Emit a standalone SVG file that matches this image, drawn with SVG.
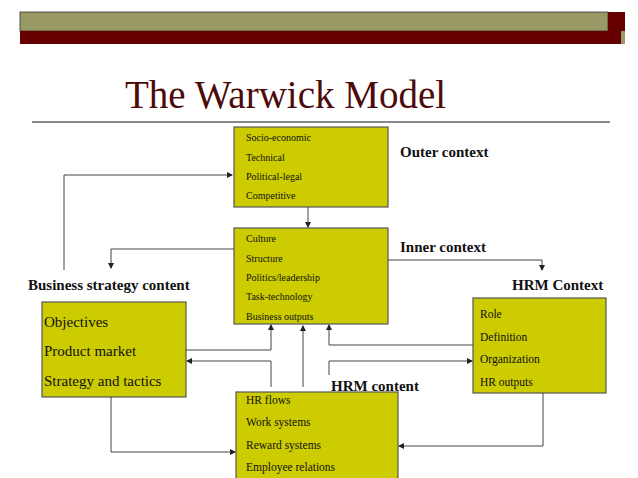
<svg xmlns="http://www.w3.org/2000/svg" width="638" height="478" viewBox="0 0 638 478">
<style>
.box{fill:#cccc00;stroke:#555;stroke-width:1.2}
.s{font-family:"Liberation Serif",serif;font-size:10px;fill:#111}
.m{font-family:"Liberation Serif",serif;font-size:15px;fill:#111}
.h{font-family:"Liberation Serif",serif;font-size:15px;font-weight:bold;fill:#111}
.c{fill:none;stroke:#444;stroke-width:1}
</style>
<defs><marker id="a" markerWidth="6" markerHeight="6" refX="5" refY="3" orient="auto" markerUnits="userSpaceOnUse"><path d="M0,0L6,3L0,6z" fill="#222"/></marker></defs>
<rect x="20" y="12" width="588" height="19" fill="#999966" stroke="#333" stroke-width="0.8"/>
<rect x="20" y="31" width="601" height="13" fill="#660000"/>
<rect x="608" y="12" width="17" height="19" fill="#660000"/>
<rect x="621" y="31" width="4" height="13" fill="#999966"/>
<text x="125" y="108" font-family="Liberation Serif,serif" font-size="39" fill="#4d0a0a">The Warwick Model</text>
<line x1="32" y1="122" x2="610" y2="122" stroke="#888" stroke-width="2"/>
<g id="outer"><rect class="box" x="234" y="127" width="154" height="80"/>
<text class="s" x="246" y="141">Socio-economic</text><text class="s" x="246" y="161">Technical</text><text class="s" x="246" y="180">Political-legal</text><text class="s" x="246" y="199">Competitive</text></g>
<g id="outerlabel"><text class="h" x="400" y="157">Outer context</text></g>
<g id="inner"><rect class="box" x="234" y="228" width="154" height="96"/>
<text class="s" x="246" y="242">Culture</text><text class="s" x="246" y="262">Structure</text><text class="s" x="246" y="281">Politics/leadership</text><text class="s" x="246" y="300">Task-technology</text><text class="s" x="246" y="320">Business outputs</text></g>
<g id="innerlabel"><text class="h" x="400" y="252">Inner context</text></g>
<g id="bsc"><text class="h" x="28" y="290">Business strategy content</text>
<rect class="box" x="42" y="302" width="144" height="95"/>
<text class="m" x="44" y="327">Objectives</text><text class="m" x="44" y="356">Product market</text><text class="m" x="44" y="386">Strategy and tactics</text></g>
<g id="hrmctx"><text class="h" x="512" y="290">HRM Context</text>
<rect class="box" x="473" y="298" width="133" height="95"/>
<text class="s" x="480" y="318" style="font-size:11.5px">Role</text><text class="s" x="480" y="341" style="font-size:11.5px">Definition</text><text class="s" x="480" y="363" style="font-size:11.5px">Organization</text><text class="s" x="480" y="386" style="font-size:11.5px">HR outputs</text></g>
<g id="hrmcontent"><text class="h" x="331" y="391">HRM content</text>
<rect class="box" x="236" y="392" width="162" height="90"/>
<text class="s" x="246" y="404" style="font-size:11.5px">HR flows</text><text class="s" x="246" y="426" style="font-size:11.5px">Work systems</text><text class="s" x="246" y="449" style="font-size:11.5px">Reward systems</text><text class="s" x="246" y="471" style="font-size:11.5px">Employee relations</text></g>
<g id="connectors">
<path class="c" d="M64,270V175H232" marker-end="url(#a)"/>
<path class="c" d="M308,207V227" marker-end="url(#a)"/>
<path class="c" d="M234,249H111V268" marker-end="url(#a)"/>
<path class="c" d="M388,260H542V270" marker-end="url(#a)"/>
<path class="c" d="M186,350H271V325" marker-end="url(#a)"/>
<path class="c" d="M271,387V361H187" marker-end="url(#a)"/>
<path class="c" d="M303,387V326" marker-end="url(#a)"/>
<path class="c" d="M473,345H329V325" marker-end="url(#a)"/>
<path class="c" d="M329,375V361H472" marker-end="url(#a)"/>
<path class="c" d="M543,393V446H399" marker-end="url(#a)"/>
<path class="c" d="M111,397V452H235" marker-end="url(#a)"/>
</g>
</svg>
